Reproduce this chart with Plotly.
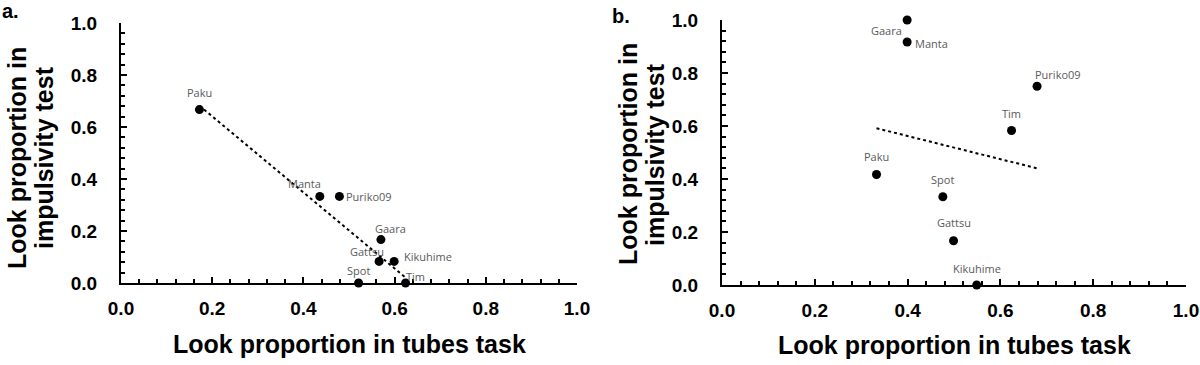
import numpy as np
import plotly.graph_objects as go

# ---------------- data ----------------
names_a = ["Paku", "Manta", "Puriko09", "Gaara", "Gattsu", "Kikuhime", "Spot", "Tim"]
tubes_a = [0.172, 0.436, 0.479, 0.570, 0.566, 0.599, 0.521, 0.624]
impuls_a = [0.667, 0.333, 0.333, 0.167, 0.083, 0.083, 0.0, 0.0]

names_b = ["Gaara", "Manta", "Puriko09", "Tim", "Paku", "Spot", "Gattsu", "Kikuhime"]
tubes_b = [0.399, 0.399, 0.679, 0.624, 0.333, 0.476, 0.499, 0.549]
impuls_b = [1.0, 0.917, 0.75, 0.583, 0.417, 0.333, 0.167, 0.0]

tick_vals = [0.0, 0.2, 0.4, 0.6, 0.8, 1.0]
tick_text = ["0.0", "0.2", "0.4", "0.6", "0.8", "1.0"]
x_title = "Look proportion in tubes task"
y_title_lines = ["Look proportion in", "impulsivity test"]
panel_labels = ["a.", "b."]

# label offsets (pixels) for each point label: (xshift, yshift, xanchor)
offs_a = [(0, 17, "center"), (-15, 13, "center"), (5, 0, "left"), (10, 11, "center"),
          (-12, 10, "center"), (8, 5, "left"), (0, 13, "center"), (10, 7, "center")]
offs_b = [(-21, -10, "center"), (6, -2, "left"), (21, 12, "center"), (0, 17, "center"),
          (0, 18, "center"), (0, 17, "center"), (0, 18, "center"), (0, 17, "center")]

W, H = 1200, 365
# plot areas in pixels: (x0, x1, ytop, ybottom)
area_a = (121, 577, 23, 283)
area_b = (722, 1186, 20, 285)


def dom(area):
    x0, x1, yt, yb = area
    return [x0 / W, x1 / W], [(H - yb) / H, (H - yt) / H]


fig = go.Figure()

TICKFONT = dict(family="Liberation Sans, Arial, sans-serif", size=19, color="black", weight="bold")
LBLFONT = dict(family="Open Sans, sans-serif", size=11, color="#5a5a5a")


def add_panel(names, xs, ys, offs, xa, ya, area):
    xref = "x" if xa == "xaxis" else "x2"
    yref = "y" if ya == "yaxis" else "y2"
    xs_np = np.array(xs)
    ys_np = np.array(ys)
    m, c = np.polyfit(xs_np, ys_np, 1)
    tx = np.array([xs_np.min(), xs_np.max()])
    fig.add_trace(go.Scatter(x=tx, y=m * tx + c, mode="lines", xaxis=xref, yaxis=yref,
                             line=dict(color="black", width=2, dash="dot"),
                             showlegend=False, hoverinfo="skip", cliponaxis=False))
    fig.add_trace(go.Scatter(x=xs, y=ys, mode="markers", xaxis=xref, yaxis=yref,
                             marker=dict(color="black", size=9),
                             showlegend=False, cliponaxis=False, text=names))
    for n, x, y, (dx, dy, anc) in zip(names, xs, ys, offs):
        fig.add_annotation(x=x, y=y, xref=xref, yref=yref, text=n, showarrow=False,
                           xshift=dx, yshift=dy, xanchor=anc, yanchor="middle",
                           font=LBLFONT)
    xd, yd = dom(area)
    axcommon = dict(range=[0, 1], tickvals=tick_vals, ticktext=tick_text, automargin=False,
                    showgrid=False, zeroline=False, showline=True, linecolor="black",
                    linewidth=2, ticks="inside", ticklen=6, tickwidth=2, tickcolor="black",
                    tickfont=TICKFONT,
                    minor=dict(dtick=0.04, tick0=0, ticks="inside", ticklen=4,
                               tickwidth=1.5, tickcolor="black", showgrid=False))
    fig.update_layout({
        xa: dict(domain=xd, anchor=yref, ticklabelstandoff=7, **axcommon),
        ya: dict(domain=yd, anchor=xref, ticklabelstandoff=18, **axcommon),
    })


add_panel(names_a, tubes_a, impuls_a, offs_a, "xaxis", "yaxis", area_a)
add_panel(names_b, tubes_b, impuls_b, offs_b, "xaxis2", "yaxis2", area_b)

TITLEFONT = dict(family="Liberation Sans, Arial, sans-serif", size=25, color="black", weight="bold")

# axis titles
for area, ycen, xcens, xty in [(area_a, 158, (17, 44), 344), (area_b, 154, (628, 655), 345)]:
    x0, x1, yt, yb = area
    fig.add_annotation(x=(x0 + x1) / 2 / W, y=(H - xty) / H, xref="paper", yref="paper",
                       text=x_title, showarrow=False, font=TITLEFONT,
                       xanchor="center", yanchor="middle")
    for line, xc in zip(y_title_lines, xcens):
        fig.add_annotation(x=xc / W, y=(H - ycen) / H, xref="paper", yref="paper",
                           text=line, showarrow=False, font=TITLEFONT, textangle=-90,
                           xanchor="center", yanchor="middle")

# panel labels
for lab, px, py in [(panel_labels[0], 0, -2), (panel_labels[1], 610, 3)]:
    fig.add_annotation(x=px / W, y=(H - py) / H, xref="paper", yref="paper", text=lab,
                       showarrow=False, xanchor="left", yanchor="top",
                       font=dict(family="Liberation Sans, Arial, sans-serif", size=20,
                                 color="black", weight="bold"))

fig.update_layout(width=W, height=H, margin=dict(l=0, r=0, t=0, b=0, autoexpand=False),
                  paper_bgcolor="white", plot_bgcolor="white")

fig.write_html("out.html", config={"displayModeBar": False},
               post_script="document.body.style.margin='0px';document.body.style.overflow='hidden';")
